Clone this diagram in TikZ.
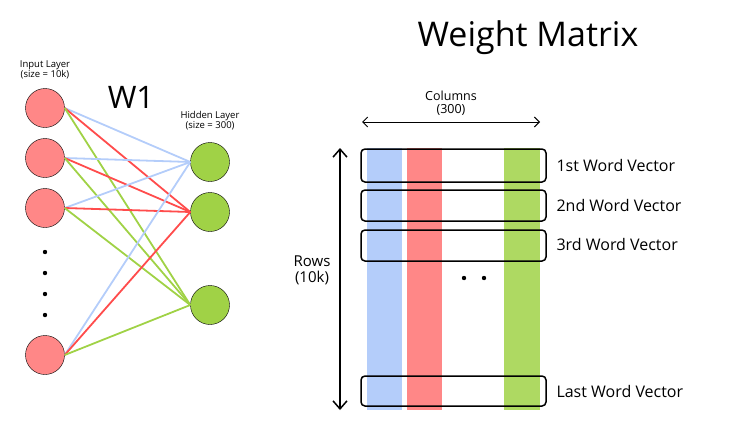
\documentclass[tikz,border=0pt]{standalone}
\usepackage{fontspec}
\setmainfont{Open Sans}
\usetikzlibrary{arrows.meta}
\begin{document}
\begin{tikzpicture}[x=1pt,y=-1pt,
  inp/.style={circle,draw=black,fill=ir,minimum size=39pt,inner sep=0pt},
  hid/.style={circle,draw=black,fill=hg,minimum size=39pt,inner sep=0pt},
  bl/.style={draw=lb,line width=1.8pt},
  rd/.style={draw=red!70,line width=1.8pt},
  gr/.style={draw=hg,line width=1.8pt},
  row/.style={draw=black,line width=1.5pt,rounded corners=4pt},
  lab/.style={font=\fontsize{16}{18}\selectfont,anchor=west},
  small/.style={font=\fontsize{9.5}{9}\selectfont,align=center,inner sep=0pt}]
\definecolor{hg}{RGB}{160,210,70}
\definecolor{ir}{RGB}{255,135,135}
\definecolor{lb}{RGB}{180,205,250}
\useasboundingbox (0,0) rectangle (730,429);
% network
\node[inp] (i1) at (45,108) {};
\node[inp] (i2) at (45,158) {};
\node[inp] (i3) at (45,208) {};
\node[inp] (i4) at (45,355) {};
\node[hid] (h1) at (210,162) {};
\node[hid] (h2) at (210,212) {};
\node[hid] (h3) at (210,305) {};
\foreach \y in {252,273,294,315} \fill (45,\y) circle (2.2pt);
\foreach \i in {i1,i2,i3,i4} {
  \draw[bl] (\i.east) -- (h1.west);
  \draw[rd] (\i.east) -- (h2.west);
  \draw[gr] (\i.east) -- (h3.west);
}
\node[small] (il) at (45,70) {Input Layer\\(size = 10k)};
\node[small] (hl) at (210,121) {Hidden Layer\\(size = 300)};
\node[font=\fontsize{31}{31}\selectfont] (w1) at (131,97) {W1};
% matrix
\node[font=\fontsize{34}{35}\selectfont] (t) at (528,38) {Weight Matrix};
\fill[lb] (367,148) rectangle (402,410);
\fill[ir] (407,148) rectangle (442,410);
\fill[hg!85!white] (504,148) rectangle (540,410);
\draw[row] (361,149) rectangle (546,182);
\draw[row] (361,190) rectangle (546,221);
\draw[row] (361,230) rectangle (546,261);
\draw[row] (361,376) rectangle (546,406);
\node[lab] (r1) at (553,165) {1st Word Vector};
\node[lab] (r2) at (553,205) {2nd Word Vector};
\node[lab] (r3) at (553,244) {3rd Word Vector};
\node[lab] (r4) at (553,391) {Last Word Vector};
\fill (464,278) circle (2.2pt) (484,278) circle (2.2pt);
\coordinate (cl) at (362,122); \coordinate (cr) at (540,122);
\draw[{Straight Barb[length=5pt]}-{Straight Barb[length=5pt]},line width=1pt] (cl) -- (cr);
\node[font=\fontsize{12.5}{13}\selectfont,align=center] (cols) at (451,103) {Columns\\(300)};
\coordinate (rt) at (340,148); \coordinate (rb) at (340,410);
\draw[{Straight Barb[length=8pt,width=14pt]}-{Straight Barb[length=8pt,width=14pt]},line width=1.5pt] (rt) -- (rb);
\node[font=\fontsize{15}{16}\selectfont,align=center] (rows) at (312,270) {Rows\\(10k)};
\end{tikzpicture}
\end{document}
